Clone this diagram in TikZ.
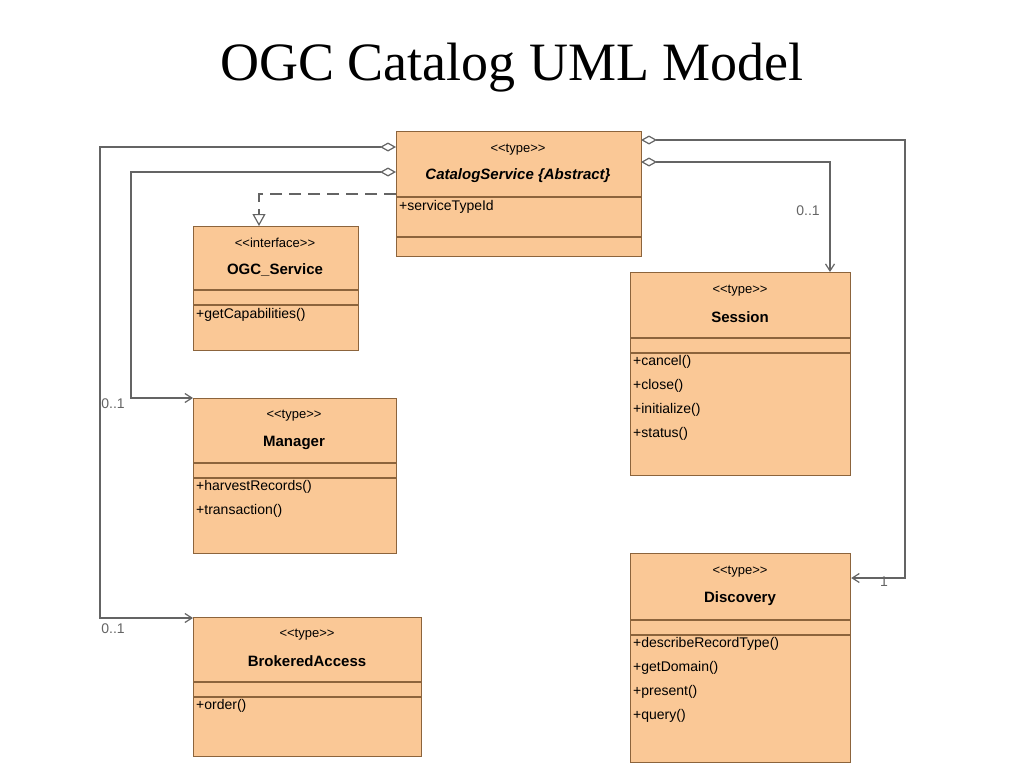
\documentclass[tikz,border=0pt]{standalone}
\usepackage{fontspec}
\setmainfont{Liberation Serif}
\newfontfamily\umlfont{Liberation Sans}
\usetikzlibrary{arrows.meta, positioning}
\definecolor{boxfill}{RGB}{250, 200, 150}
\definecolor{boxline}{RGB}{140, 100, 60}
\definecolor{wire}{RGB}{100, 100, 100}

\tikzset{
  cls/.style={draw=boxline, fill=boxfill, line width=1.2pt, anchor=north west, inner sep=0pt},
  sep/.style={draw=boxline, line width=1.2pt},
  stereo/.style={font=\umlfont\fontsize{13}{15}\selectfont, anchor=center},
  title/.style={font=\umlfont\bfseries\fontsize{15}{17}\selectfont, anchor=center},
  members/.style={font=\umlfont\fontsize{14}{24}\selectfont, anchor=north west, align=left, inner sep=1pt},
  assoc/.style={draw=wire, line width=1.2pt, {Diamond[open,length=16pt,width=9pt]}-{Straight Barb[length=7pt,width=9pt]}},
  mult/.style={font=\umlfont\fontsize{14}{16}\selectfont, text=wire}
}

\begin{document}
\begin{tikzpicture}[x=1pt, y=-1pt]
    \useasboundingbox (0,0) rectangle (1024,768);
    \node[font=\fontsize{54}{60}\selectfont] (head) at (512,68) {OGC Catalog UML Model};

    % classes
    \node[cls, minimum width=245, minimum height=125] (cat) at (396,131) {};
    \node[stereo] at (518,150) {<<type>>};
    \node[title, font=\umlfont\bfseries\itshape\fontsize{15}{17}\selectfont] at (518,176) {CatalogService \{Abstract\}};
    \draw[sep] (396,197) -- (641,197) (396,237) -- (641,237);
    \node[members] at (398,199) {+serviceTypeId};

    \node[cls, minimum width=165, minimum height=124] (ogc) at (193,226) {};
    \node[stereo] at (275,243) {<<interface>>};
    \node[title] at (275,270) {OGC\_Service};
    \draw[sep] (193,290) -- (358,290) (193,305) -- (358,305);
    \node[members] at (195,307) {+getCapabilities()};

    \node[cls, minimum width=220, minimum height=203] (ses) at (630,272) {};
    \node[stereo] at (740,291) {<<type>>};
    \node[title] at (740,317) {Session};
    \draw[sep] (630,338) -- (850,338) (630,353) -- (850,353);
    \node[members] at (632,354) {+cancel()\\+close()\\+initialize()\\+status()};

    \node[cls, minimum width=203, minimum height=155] (man) at (193,398) {};
    \node[stereo] at (294,416) {<<type>>};
    \node[title] at (294,443) {Manager};
    \draw[sep] (193,463) -- (396,463) (193,478) -- (396,478);
    \node[members] at (195,479) {+harvestRecords()\\+transaction()};

    \node[cls, minimum width=220, minimum height=209] (dis) at (630,553) {};
    \node[stereo] at (740,572) {<<type>>};
    \node[title] at (740,599) {Discovery};
    \draw[sep] (630,620) -- (850,620) (630,635) -- (850,635);
    \node[members] at (632,636) {+describeRecordType()\\+getDomain()\\+present()\\+query()};

    \node[cls, minimum width=228, minimum height=139] (bro) at (193,617) {};
    \node[stereo] at (307,635) {<<type>>};
    \node[title] at (307,661) {BrokeredAccess};
    \draw[sep] (193,682) -- (421,682) (193,697) -- (421,697);
    \node[members] at (195,698) {+order()};

    % connectors
    \coordinate (catL1) at (396,147);
    \coordinate (catL2) at (396,172);
    \coordinate (catR1) at (641,140);
    \coordinate (catR2) at (641,162);
    \draw[assoc] (catL1) -| (100,618) -- (bro.west |- 0,618);
    \draw[assoc] (catL2) -| (131,398) -- (man.west |- 0,398);
    \draw[assoc] (catR1) -| (905,578) -- (dis.east |- 0,578);
    \draw[assoc] (catR2) -| (ses.north -| 830,0);
    \draw[wire, line width=1.2pt, dashed, dash pattern=on 12pt off 7pt, -{Triangle[open,length=12pt,width=13pt]}]
        (396,194) -| (ogc.north -| 259,0);

    \node[mult] (m1) at (113,629) {0..1};
    \node[mult] (m2) at (113,404) {0..1};
    \node[mult] (m3) at (808,211) {0..1};
    \node[mult] (m4) at (884,582) {1};
\end{tikzpicture}
\end{document}
